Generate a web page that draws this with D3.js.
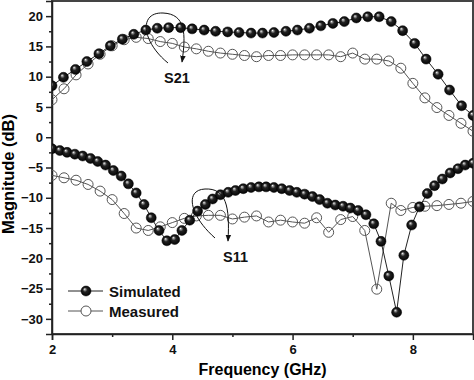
<!DOCTYPE html>
<html>
<head>
<meta charset="utf-8">
<script src="https://cdn.jsdelivr.net/npm/d3@7/dist/d3.min.js"></script>
<style>
  body { margin: 0; background: #fff; }
  svg { display: block; font-family: "Liberation Sans", Arial, sans-serif; }
  .tick text { font-weight: bold; fill: #111; }
</style>
</head>
<body>
<svg id="chart" width="474" height="380"></svg>
<script>
// frequencies (GHz) and magnitudes (dB)
const simS21Freq = [2.00, 2.19, 2.39, 2.58, 2.78, 2.97, 3.17, 3.36, 3.56, 3.75, 3.94, 4.14, 4.33,
  4.53, 4.72, 4.92, 5.11, 5.31, 5.50, 5.69, 5.89, 6.08, 6.28, 6.47, 6.67, 6.86, 7.06, 7.25,
  7.44, 7.64, 7.83, 8.03, 8.22, 8.42, 8.61, 8.81, 9.00];
const simS21 = [8.5, 9.9, 11.2, 12.5, 13.8, 15.1, 16.2, 17.0, 17.7, 18.0, 18.1, 18.1, 17.9,
  17.7, 17.5, 17.4, 17.3, 17.2, 17.2, 17.3, 17.5, 17.7, 18.0, 18.4, 18.8, 19.1, 19.7, 19.9,
  19.9, 19.1, 17.6, 15.5, 12.9, 10.4, 7.8, 5.2, 3.6];

const simS11Freq = [2.00, 2.13, 2.25, 2.38, 2.51, 2.64, 2.76, 2.89, 3.02, 3.15, 3.27, 3.40,
  3.53, 3.65, 3.78, 3.91, 4.04, 4.16, 4.29, 4.42, 4.55, 4.67, 4.80, 4.93, 5.05, 5.18, 5.31,
  5.44, 5.56, 5.69, 5.82, 5.95, 6.07, 6.20, 6.33, 6.45, 6.58, 6.71, 6.84, 6.96, 7.09, 7.22,
  7.35, 7.47, 7.60, 7.73, 7.85, 7.98, 8.11, 8.24, 8.36, 8.49, 8.62, 8.75, 8.87, 9.00];
const simS11 = [-1.9, -2.2, -2.5, -2.8, -3.1, -3.5, -4.0, -4.6, -5.5, -6.4, -7.7, -9.2,
  -11.1, -13.3, -15.4, -17.1, -16.9, -15.4, -13.7, -12.2, -11.1, -10.2, -9.5, -9.1, -8.8,
  -8.5, -8.3, -8.2, -8.2, -8.3, -8.5, -8.8, -9.1, -9.4, -9.8, -10.3, -10.9, -11.2, -11.4,
  -11.7, -12.1, -12.8, -14.3, -17.2, -22.9, -28.9, -19.5, -14.5, -11.5, -9.3, -8.0, -6.9,
  -5.9, -5.2, -4.6, -4.3];

const measS21Freq = [2.0, 2.2, 2.4, 2.6, 2.8, 3.0, 3.2, 3.4, 3.6, 3.8, 4.0, 4.2, 4.4, 4.6,
  4.8, 5.0, 5.2, 5.4, 5.6, 5.8, 6.0, 6.2, 6.4, 6.6, 6.8, 7.0, 7.2, 7.4, 7.6, 7.8, 8.0, 8.2,
  8.4, 8.6, 8.8, 9.0];
const measS21 = [6.2, 8.0, 10.3, 12.1, 13.7, 15.1, 16.1, 16.5, 16.3, 15.8, 15.5, 14.9, 14.6,
  14.2, 13.9, 13.7, 13.5, 13.3, 13.5, 13.5, 13.6, 13.6, 13.6, 13.6, 13.3, 13.9, 12.9, 12.9,
  12.6, 11.4, 8.9, 6.5, 4.9, 3.6, 2.3, 1.0];

const measS11Freq = [2.0, 2.2, 2.4, 2.6, 2.8, 3.0, 3.2, 3.4, 3.6, 3.8, 4.0, 4.2, 4.4, 4.6,
  4.8, 5.0, 5.2, 5.4, 5.6, 5.8, 6.0, 6.2, 6.4, 6.6, 6.8, 7.0, 7.2, 7.4, 7.64, 7.8, 8.0, 8.2,
  8.4, 8.6, 8.8, 9.0];
const measS11 = [-6.3, -6.7, -7.1, -7.8, -8.9, -10.3, -12.6, -15.0, -15.4, -14.8, -14.1,
  -13.4, -13.0, -12.9, -12.9, -13.5, -13.2, -13.0, -14.0, -13.7, -14.0, -14.2, -13.3, -15.7,
  -13.6, -13.1, -15.4, -25.1, -10.9, -12.1, -11.6, -11.4, -11.3, -11.1, -10.9, -10.6];

const xMajor = [2, 4, 6, 8];
const xMinor = [3, 5, 7];
const yMajor = [-30, -25, -20, -15, -10, -5, 0, 5, 10, 15, 20];
const yMinor = [-27.5, -22.5, -17.5, -12.5, -7.5, -2.5, 2.5, 7.5, 12.5, 17.5];
const legendNames = ["Simulated", "Measured"];

const svg = d3.select("#chart");
const L = 52, R = 473, T = 1, B = 334;
const x = d3.scaleLinear().domain([2, 9]).range([L, R]);
const y = d3.scaleLinear().domain([-32.5, 22.5]).range([B, T]);

const defs = svg.append("defs");
const grad = defs.append("radialGradient").attr("id", "ball")
  .attr("cx", "50%").attr("cy", "50%").attr("r", "55%")
  .attr("fx", "35%").attr("fy", "30%");
[[0, "#ffffff"], [0.14, "#a0a0a0"], [0.4, "#222"], [1, "#000"]].forEach(s =>
  grad.append("stop").attr("offset", s[0]).attr("stop-color", s[1]));
defs.append("clipPath").attr("id", "plot")
  .append("rect").attr("x", L).attr("y", T).attr("width", R - L).attr("height", B - T);
defs.append("marker").attr("id", "arrow")
  .attr("viewBox", "0 0 10 10").attr("refX", 9).attr("refY", 5)
  .attr("markerWidth", 7).attr("markerHeight", 7).attr("orient", "auto")
  .append("path").attr("d", "M0,1L10,5L0,9Z").attr("fill", "#111");

// frame (top / right)
svg.append("rect").attr("x", L).attr("y", T).attr("width", R - L).attr("height", B - T)
  .attr("fill", "none").attr("stroke", "#444").attr("stroke-width", 2);

// axes
const gx = svg.append("g").attr("transform", `translate(0,${B})`);
gx.call(d3.axisBottom(x).tickValues(xMajor).tickFormat(d3.format("d")).tickSize(6).tickPadding(5));
gx.append("g").call(d3.axisBottom(x).tickValues(xMinor).tickFormat("").tickSize(3))
  .select(".domain").remove();
gx.selectAll("text").attr("font-size", 13);

const gy = svg.append("g").attr("transform", `translate(${L},0)`);
gy.call(d3.axisLeft(y).tickValues(yMajor).tickFormat(d3.format("d")).tickSize(6).tickPadding(3));
gy.append("g").call(d3.axisLeft(y).tickValues(yMinor).tickFormat("").tickSize(3))
  .select(".domain").remove();
gy.selectAll("text").attr("font-size", 13);
svg.selectAll(".domain, .tick line").attr("stroke", "#222").attr("stroke-width", 1.5);

// axis titles
svg.append("text").attr("x", (L + R) / 2).attr("y", 375).attr("text-anchor", "middle")
  .attr("font-size", 16).attr("font-weight", "bold").text("Frequency (GHz)");
svg.append("text").attr("transform", "translate(14,174) rotate(-90)").attr("text-anchor", "middle")
  .attr("font-size", 16.5).attr("font-weight", "bold").text("Magnitude (dB)");

// curves
const plot = svg.append("g").attr("clip-path", "url(#plot)");
const line = d3.line().x(d => x(d[0])).y(d => y(d[1]));
const series = [
  { f: measS21Freq, v: measS21, sim: false },
  { f: measS11Freq, v: measS11, sim: false },
  { f: simS21Freq, v: simS21, sim: true },
  { f: simS11Freq, v: simS11, sim: true }
];
series.forEach(s => {
  const pts = s.f.map((f, i) => [f, s.v[i]]);
  plot.append("path").datum(pts).attr("d", line).attr("fill", "none")
    .attr("stroke", s.sim ? "#222" : "#555").attr("stroke-width", 1);
  plot.selectAll(null).data(pts).join("circle")
    .attr("cx", d => x(d[0])).attr("cy", d => y(d[1]))
    .attr("r", 5)
    .attr("fill", s.sim ? "url(#ball)" : "none")
    .attr("stroke", s.sim ? "#000" : "#555").attr("stroke-width", s.sim ? 0.5 : 1);
});

// legend
const leg = svg.append("g");
legendNames.forEach((name, i) => {
  const ly = 291 + i * 20;
  leg.append("line").attr("x1", 68).attr("x2", 103).attr("y1", ly).attr("y2", ly)
    .attr("stroke", i ? "#555" : "#222").attr("stroke-width", 1);
  leg.append("circle").attr("cx", 86).attr("cy", ly).attr("r", 5)
    .attr("fill", i ? "#fff" : "url(#ball)").attr("stroke", i ? "#555" : "#000")
    .attr("stroke-width", i ? 1 : 0.5);
  leg.append("text").attr("x", 109).attr("y", ly + 5.5).attr("font-size", 15)
    .attr("font-weight", "bold").attr("fill", "#111").text(name);
});

// annotations
svg.append("path").attr("d", "M168,63 C142,42 138,12 163,13 C186,14 186,34 182,62")
  .attr("fill", "none").attr("stroke", "#111").attr("stroke-width", 1)
  .attr("marker-end", "url(#arrow)");
svg.append("text").attr("x", 164).attr("y", 83).attr("font-size", 14.5)
  .attr("font-weight", "bold").attr("fill", "#111").text("S21");
svg.append("path").attr("d", "M215,238 C190,216 184,190 205,189 C226,188 230,206 228,241")
  .attr("fill", "none").attr("stroke", "#111").attr("stroke-width", 1)
  .attr("marker-end", "url(#arrow)");
svg.append("text").attr("x", 223).attr("y", 262).attr("font-size", 14.5)
  .attr("font-weight", "bold").attr("fill", "#111").text("S11");
</script>
</body>
</html>
